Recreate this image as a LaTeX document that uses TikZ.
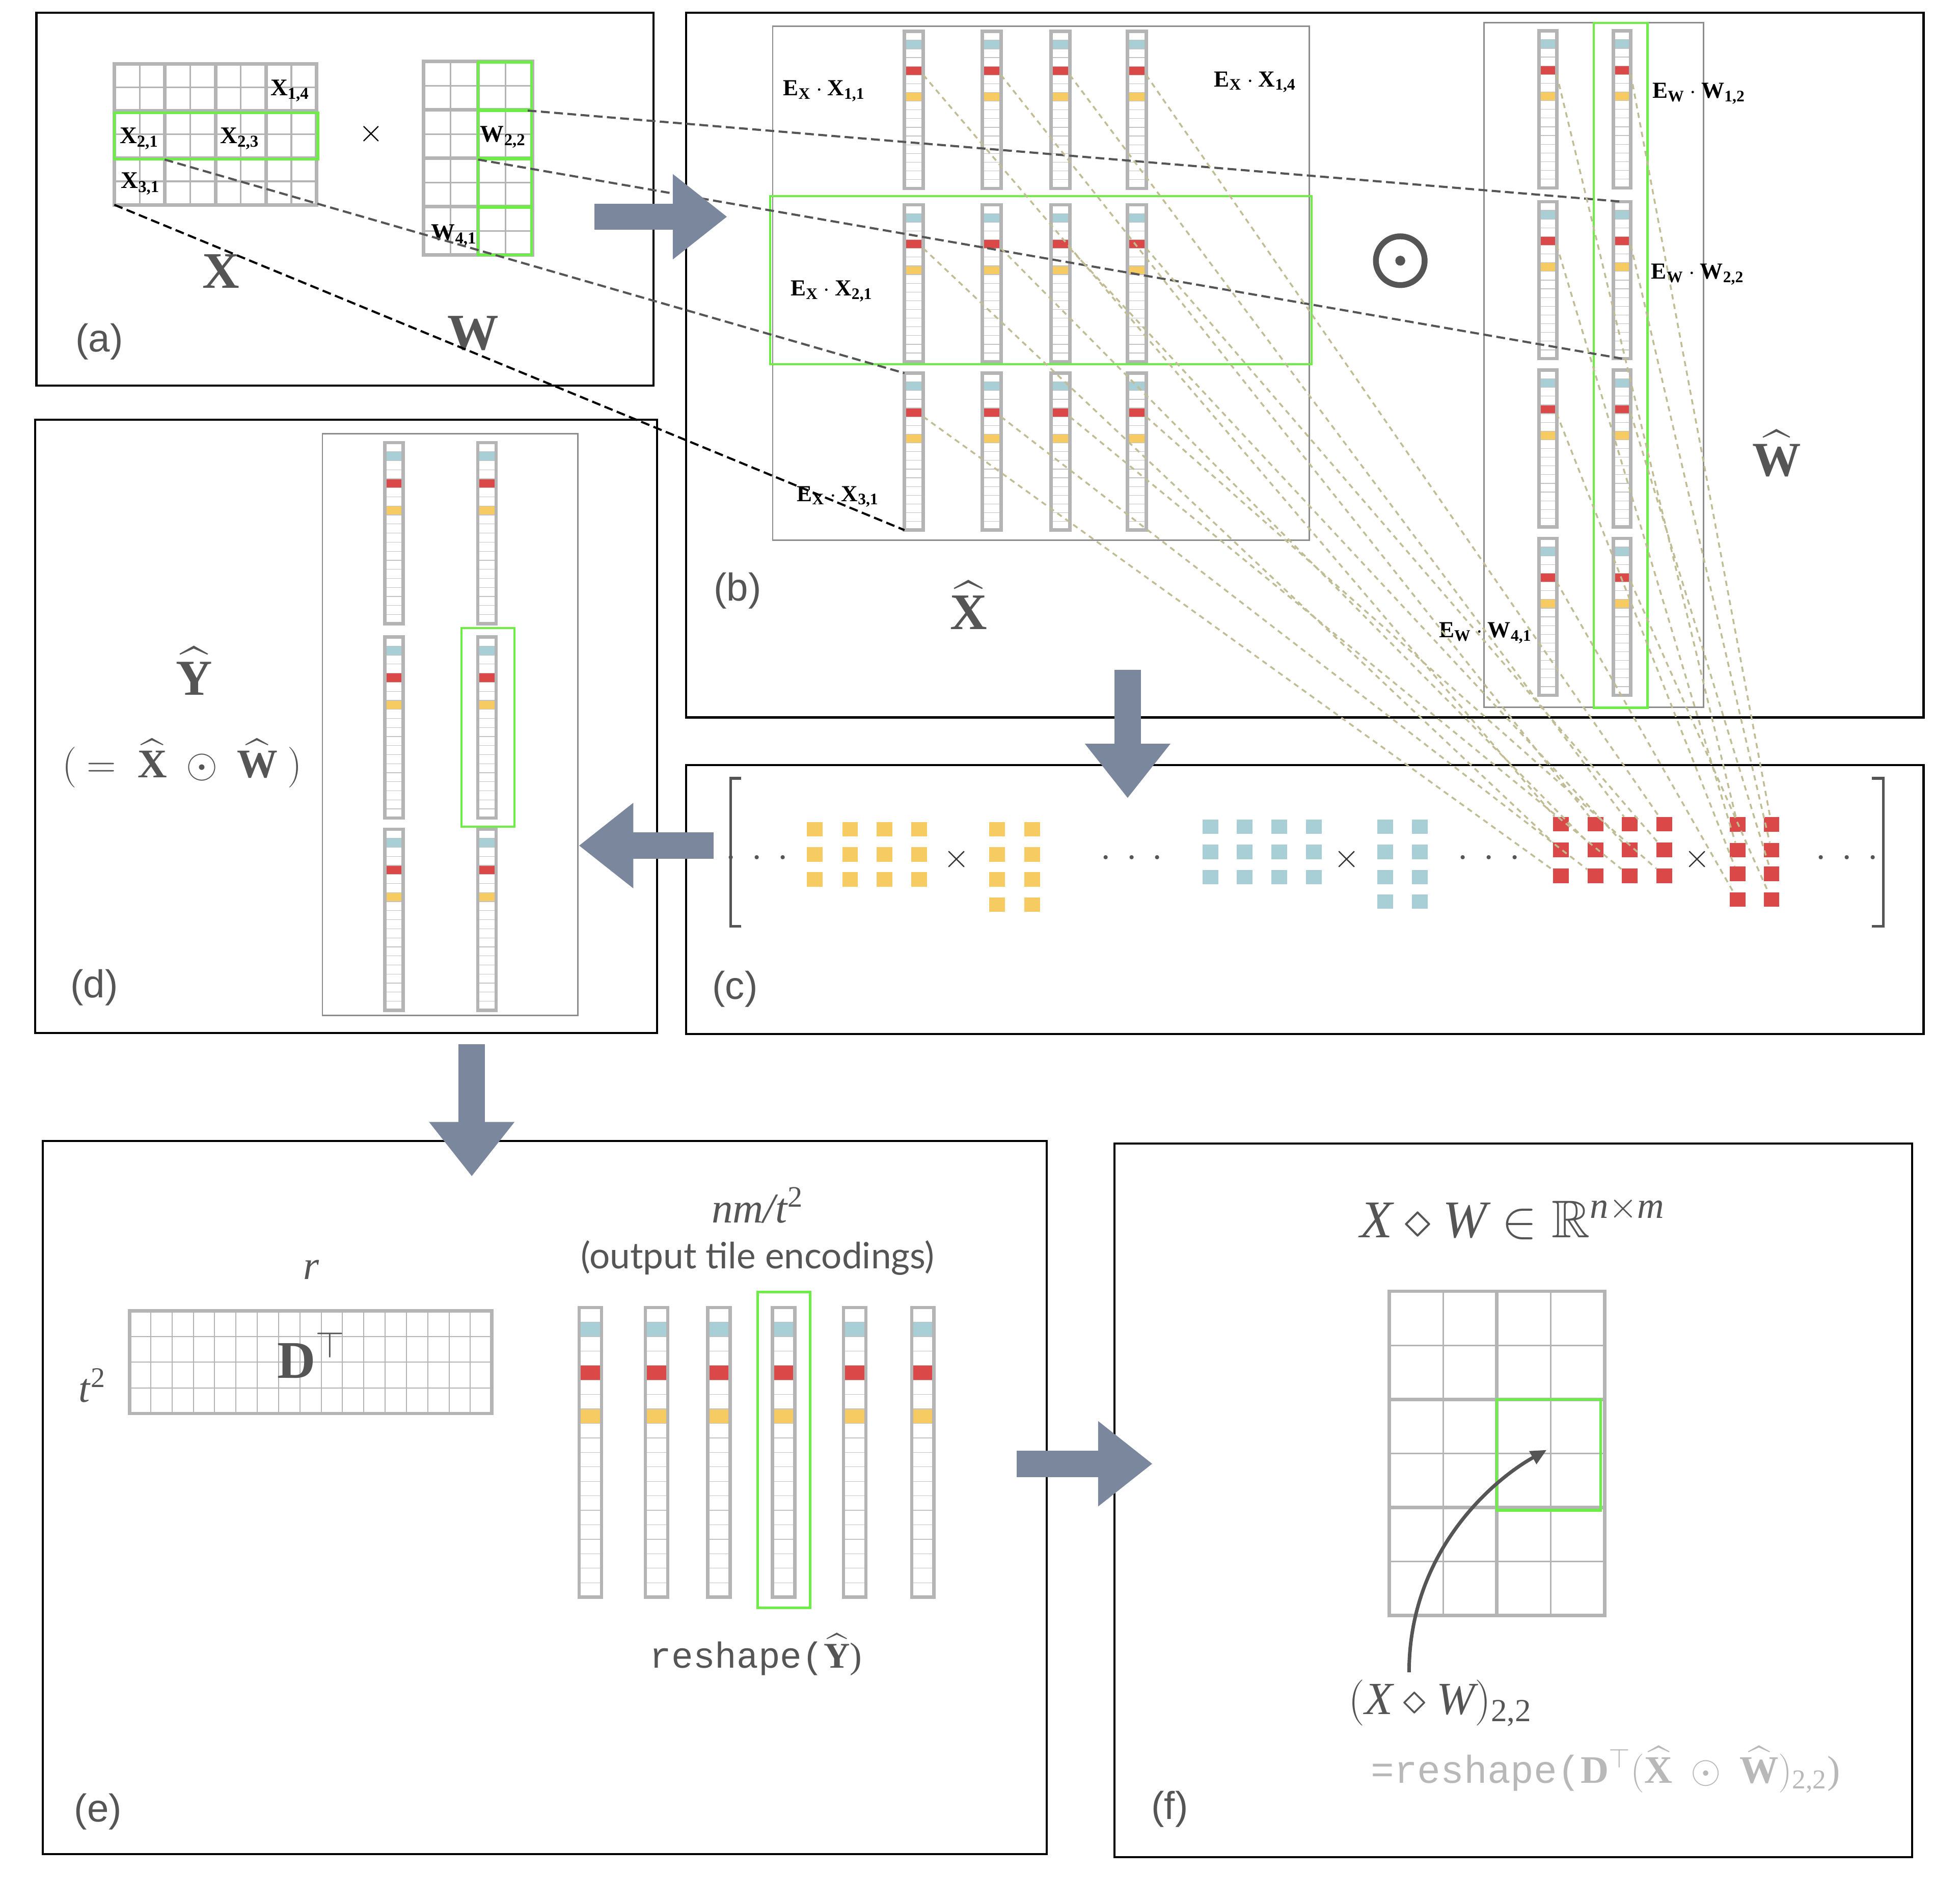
\documentclass[tikz,border=0pt]{standalone}
\usepackage{fix-cm}
\usepackage{amsmath, amssymb}
\usepackage{fontspec}
\setmainfont{Liberation Serif}
\setsansfont{Liberation Sans}
\setmonofont{Liberation Mono}
\newfontfamily\gillfont{Lato}
\usetikzlibrary{arrows.meta}
\definecolor{tilegreen}{RGB}{108,238,70}
\definecolor{cellblue}{RGB}{168,206,214}
\definecolor{cellred}{RGB}{218,72,72}
\definecolor{cellyellow}{RGB}{246,204,98}
\definecolor{slate}{RGB}{122,135,157}
\definecolor{olivedash}{RGB}{192,188,148}
\definecolor{inkgray}{RGB}{85,85,85}
\definecolor{gridgray}{RGB}{180,180,180}
\tikzset{
  panel/.style = {draw=black, line width=1.2pt},
  innerbox/.style = {draw=black!45, line width=0.8pt},
  hilite/.style = {draw=tilegreen, line width=1.5pt},
  gridthin/.style = {draw=gridgray, line width=0.9pt},
  gridthick/.style = {draw=gridgray, line width=2pt, line cap=rect},
  cellline/.style = {draw=gridgray!80, line width=0.35pt},
  vecframe/.style = {draw=gridgray, line width=1.9pt},
  bigarrow/.style = {draw=slate, line width=14.9pt, -{Triangle[width=48.4pt,length=30.6pt,line width=0pt]}},
  mapline/.style = {draw=inkgray, line width=1.2pt, dash pattern=on 5pt off 2.5pt},
  olivemap/.style = {draw=olivedash, line width=1pt, dash pattern=on 3pt off 2.5pt},
  tilesq/.style = {minimum width=8.9pt, minimum height=8.2pt, inner sep=0pt},
  plabel/.style = {font=\sffamily\fontsize{22}{25}\selectfont, text=inkgray},
  blocklab/.style = {font=\fontsize{13.5}{15}\selectfont, anchor=base west, inner sep=0pt},
  enclab/.style = {font=\fontsize{13}{15}\selectfont, anchor=base west, inner sep=0pt},
  biglab/.style = {font=\fontsize{29}{32}\selectfont, text=inkgray, anchor=base, inner sep=0pt},
  bracket/.style = {draw=inkgray, line width=1.6pt},
}
\newcommand{\finegrid}[6]{%
  \foreach \i in {0,...,#3} \draw[gridthin] (#1+\i*#5,#2) -- (#1+\i*#5,#2+#4*#6);
  \foreach \j in {0,...,#4} \draw[gridthin] (#1,#2+\j*#6) -- (#1+#3*#5,#2+\j*#6);
  \foreach \i in {0,2,...,#3} \draw[gridthick] (#1+\i*#5,#2) -- (#1+\i*#5,#2+#4*#6);
  \foreach \j in {0,2,...,#4} \draw[gridthick] (#1,#2+\j*#6) -- (#1+#3*#5,#2+\j*#6);
}
\newcommand{\encvec}[6]{%
  \pgfmathsetmacro{\hw}{#6/2}%
  \pgfmathtruncatemacro{\nm}{#5-1}%
  \fill[white] (#2-\hw,#3) rectangle (#2+\hw,#3+#4*#5);
  \foreach \k/\cc in {1/cellblue,4/cellred,7/cellyellow}
    \fill[\cc] (#2-\hw,#3+\k*#4) rectangle (#2+\hw,#3+\k*#4+#4);
  \foreach \k in {1,...,\nm}
    \draw[cellline] (#2-\hw,#3+\k*#4) -- (#2+\hw,#3+\k*#4);
  \draw[vecframe] (#2-\hw,#3) rectangle (#2+\hw,#3+#4*#5);
  \coordinate (#1-nw) at (#2-\hw,#3);
  \coordinate (#1-n) at (#2,#3);
  \coordinate (#1-s) at (#2,#3+#4*#5);
  \coordinate (#1-sw) at (#2-\hw,#3+#4*#5);
  \coordinate (#1-r) at (#2+\hw,#3+5*#4);
}

\begin{document}
\begin{tikzpicture}[x=0.025cm, y=-0.025cm]
\useasboundingbox (0,0) rectangle (1560,1514.4);

\draw[panel] (29,10) rectangle (520,307);
\draw[panel] (546,10) rectangle (1531,571);
\draw[panel] (546,609) rectangle (1531,823);
\draw[panel] (28,334) rectangle (523,822);
\draw[panel] (34,908) rectangle (833,1475.5);
\draw[panel] (887,910) rectangle (1522,1478);

\node[plabel] (labA) at (79,272) {(a)};
\node[plabel] (labB) at (587,470) {(b)};
\node[plabel] (labC) at (585,787) {(c)};
\node[plabel] (labD) at (75,786) {(d)};
\node[plabel] (labE) at (78,1442) {(e)};
\node[plabel] (labF) at (931,1440) {(f)};

% (a)
\finegrid{91}{51}{8}{6}{20.125}{18.667}
\finegrid{337}{49}{4}{8}{21.75}{19.25}
\draw[hilite] (91,89.7) rectangle (253,126.6);
\foreach \j in {0,...,3} \draw[hilite] (380.5,49.5+\j*38.5) rectangle (423,87.5+\j*38.5);
\node[blocklab] (x14) at (215,76) {$\textbf{X}_{\textbf{1,4}}$};
\node[blocklab] (x21) at (95,114) {$\textbf{X}_{\textbf{2,1}}$};
\node[blocklab] (x23) at (175,114) {$\textbf{X}_{\textbf{2,3}}$};
\node[blocklab] (x31) at (96,150) {$\textbf{X}_{\textbf{3,1}}$};
\node[blocklab] (w22) at (382,113) {$\textbf{W}_{\textbf{2,2}}$};
\node[blocklab] (w41) at (343,191) {$\textbf{W}_{\textbf{4,1}}$};
\node[font=\sffamily\fontsize{18}{20}\selectfont] (times) at (295.5,106.4) {$\times$};
\node[biglab] (bigX) at (176,229.2) {$\textbf{X}$};
\node[biglab] (bigW) at (376.5,278.3) {$\textbf{W}$};
\coordinate (w22-ne) at (420,88);
\coordinate (w22-sw) at (380.5,127);
\coordinate (x31-ne) at (131,127);
\coordinate (x31-sw) at (91,163);

% (b)
\draw[innerbox] (615,21) rectangle (1042,430);
\draw[innerbox] (1181,18) rectangle (1356,563);
\foreach \r/\y in {1/25,2/163,3/297}
  \foreach \c/\x in {1/727.4,2/789.2,3/844,4/904.8}
    \encvec{xv\r\c}{\x}{\y}{6.94}{18}{15}
\foreach \r/\y in {1/24.6,2/160.5,3/294.5,4/428.5}
  \foreach \c/\x in {1/1232,2/1291}
    \encvec{wv\r\c}{\x}{\y}{6.94}{18}{14}
\draw[hilite, line width=1.2pt] (613,156) rectangle (1044,290);
\draw[hilite, line width=1.2pt] (1268.6,18.4) rectangle (1311.3,563.3);
\node[enclab] (ex11) at (623,76) {$\textbf{E}_{\textbf{X}}\cdot\textbf{X}_{\textbf{1,1}}$};
\node[enclab] (ex14) at (966,69) {$\textbf{E}_{\textbf{X}}\cdot\textbf{X}_{\textbf{1,4}}$};
\node[enclab] (ex21) at (629,235.5) {$\textbf{E}_{\textbf{X}}\cdot\textbf{X}_{\textbf{2,1}}$};
\node[enclab] (ex31) at (634,399) {$\textbf{E}_{\textbf{X}}\cdot\textbf{X}_{\textbf{3,1}}$};
\node[enclab] (ew12) at (1315,78) {$\textbf{E}_{\textbf{W}}\cdot\textbf{W}_{\textbf{1,2}}$};
\node[enclab] (ew22) at (1314,222) {$\textbf{E}_{\textbf{W}}\cdot\textbf{W}_{\textbf{2,2}}$};
\node[enclab] (ew41) at (1145,507.5) {$\textbf{E}_{\textbf{W}}\cdot\textbf{W}_{\textbf{4,1}}$};
\draw[inkgray, line width=3.3pt] (1114.5,207.5) circle[radius=13.8pt];
\fill[inkgray] (1114.5,207.5) circle[radius=2.8pt];
\node[biglab] (hatX) at (771,501) {$\widehat{\textbf{X}}$};
\node[biglab, font=\fontsize{27.5}{30}\selectfont] (hatW) at (1414,379) {$\widehat{\textbf{W}}$};

\draw[mapline] (w22-ne) -- (wv22-n);
\draw[mapline] (w22-sw) -- (wv22-s);
\draw[mapline] (x31-ne) -- (xv31-nw);
\draw[mapline, draw=black] (x31-sw) -- (xv31-sw);

% (c)
\draw[bracket] (590,619.5) -- (581.5,619.5) -- (581.5,737.3) -- (590,737.3);
\draw[bracket] (1490,619.5) -- (1499,619.5) -- (1499,737.3) -- (1490,737.3);
\foreach \r/\y in {1/660,2/680,3/700}
  \foreach \c/\x in {1/648.6,2/676.6,3/704,4/731.5}
    \node[tilesq, fill=cellyellow] (yl\r\c) at (\x,\y) {};
\foreach \r/\y in {1/660,2/680,3/700,4/720}
  \foreach \c/\x in {1/793.5,2/821.6}
    \node[tilesq, fill=cellyellow] (yr\r\c) at (\x,\y) {};
\foreach \r/\y in {1/658,2/678,3/698}
  \foreach \c/\x in {1/963.4,2/990.7,3/1018.3,4/1045.7}
    \node[tilesq, fill=cellblue] (bl\r\c) at (\x,\y) {};
\foreach \r/\y in {1/658,2/678,3/698,4/717.6}
  \foreach \c/\x in {1/1102.6,2/1130}
    \node[tilesq, fill=cellblue] (br\r\c) at (\x,\y) {};
\foreach \r/\y in {1/656,2/676.5,3/697}
  \foreach \c/\x in {1/1242.4,2/1269.8,3/1297,4/1324.7}
    \node[tilesq, fill=cellred] (rl\r\c) at (\x,\y) {};
\foreach \r/\y in {1/656.2,2/676.7,3/695.5,4/716}
  \foreach \c/\x in {1/1383,2/1410}
    \node[tilesq, fill=cellred] (rr\r\c) at (\x,\y) {};
\foreach \n/\x in {1/602.5,2/900.7,3/1185,4/1470}
  \node[font=\fontsize{22}{25}\selectfont, text=inkgray] (dots\n) at (\x,683.5) {$\cdot\,\cdot\,\cdot$};
\foreach \n/\x in {1/761.5,2/1071.8,3/1351}
  \node[font=\fontsize{19}{21}\selectfont, text=black!80] (mul\n) at (\x,684) {$\times$};

\foreach \r in {1,2,3}
  \foreach \c in {1,...,4}
    \draw[olivemap] (xv\r\c-r) -- (rl\r\c);
\foreach \r in {1,...,4}
  \foreach \c in {1,2}
    \draw[olivemap] (wv\r\c-r) -- (rr\r\c);

% (d)
\draw[innerbox] (256.6,345.2) rectangle (460,808.3);
\foreach \r/\y in {1/352.3,2/507,3/660}
  \foreach \c/\x in {1/313.6,2/387.5}
    \encvec{yv\r\c}{\x}{\y}{7.2}{20}{14.6}
\draw[hilite, line width=1.2pt] (367.3,499.7) rectangle (409.4,657.8);
\node[biglab, font=\fontsize{28.5}{31}\selectfont] (hatY) at (154.6,553) {$\widehat{\textbf{Y}}$};
\node[biglab, font=\fontsize{23}{26}\selectfont] (yexpr) at (145,619)
  {$(\ =\ \widehat{\textbf{X}}\ \odot\ \widehat{\textbf{W}}\ )$};

% (e)
\foreach \i in {1,...,16} \draw[gridthin, line width=0.6pt] (103+\i*16.96,1043.4) -- (103+\i*16.96,1125);
\foreach \j in {1,2,3} \draw[gridthin, line width=0.6pt] (103,1043.4+\j*20.4) -- (391.4,1043.4+\j*20.4);
\draw[gridthick] (103,1043.4) rectangle (391.4,1125);
\node[anchor=base west, inner sep=0pt, text=inkgray, font=\fontsize{30}{32}\selectfont] (dlab) at (220.6,1097) {$\textbf{D}^{\top}$};
\node[biglab, font=\itshape\fontsize{23}{26}\selectfont] (rlab) at (247.7,1018.3) {r};
\node[biglab, font=\fontsize{23}{26}\selectfont] (tlab) at (73.5,1115.7) {\textit{t}$^{\textrm{2}}$};
\node[biglab, font=\fontsize{24}{27}\selectfont] (nmlab) at (603,973) {\textit{nm/t}$^{\textrm{2}}$};
\node[biglab, font=\gillfont\fontsize{20.5}{23}\selectfont] (otlab) at (603,1009.6) {(output tile encodings)};
\foreach \k/\x in {1/469.8,2/522.5,3/572.2,4/623.8,5/680.2,6/734.5}
  \encvec{ev\k}{\x}{1040.7}{11.525}{20}{17.8}
\draw[hilite] (603,1028.4) rectangle (644.8,1279.5);
\node[biglab, font=\fontsize{20.5}{24}\selectfont] (rsY) at (601.6,1327.5) {\texttt{reshape(}$\widehat{\textbf{Y}}$)};

% (f)
\node[biglab, font=\fontsize{30}{33}\selectfont] (ftitle) at (1204,985)
  {$\textit{X}\diamond\textit{W}\in\mathbb{R}^{\textit{n}\times\textit{m}}$};
\finegrid{1105.6}{1027.7}{4}{6}{42.93}{43.03}
\draw[hilite] (1191.4,1113.8) rectangle (1274,1202);
\node[biglab, font=\fontsize{26}{29}\selectfont] (xwlab) at (1146.4,1364.4)
  {$(\textit{X}\diamond\textit{W})_{\textrm{2,2}}$};
\node[biglab, font=\fontsize{22}{26}\selectfont, text=black!28] (fexpr) at (1277.8,1419)
  {\texttt{=reshape(}$\textbf{D}^{\top}(\widehat{\textbf{X}}\ \odot\ \widehat{\textbf{W}})_{\textrm{2,2}}$)};
\coordinate (fsrc) at (1121.5,1331);
\coordinate (ftip) at (1231,1154);
\draw[inkgray, line width=2pt, -{Triangle[length=9pt,width=8pt]}]
  (fsrc) .. controls (1121.5,1235) and (1188,1178) .. (ftip);

% arrows
\coordinate (ab-s) at (473,172.5);   \coordinate (ab-e) at (578.5,172.5);
\coordinate (bc-s) at (897.5,533);   \coordinate (bc-e) at (897.5,635);
\coordinate (cd-s) at (568,673);     \coordinate (cd-e) at (461,673);
\coordinate (de-s) at (375.5,831);   \coordinate (de-e) at (375.5,936);
\coordinate (ef-s) at (809,1165);    \coordinate (ef-e) at (917,1165);
\foreach \p in {ab,bc,cd,de,ef} \draw[bigarrow] (\p-s) -- (\p-e);
\end{tikzpicture}
\end{document}
